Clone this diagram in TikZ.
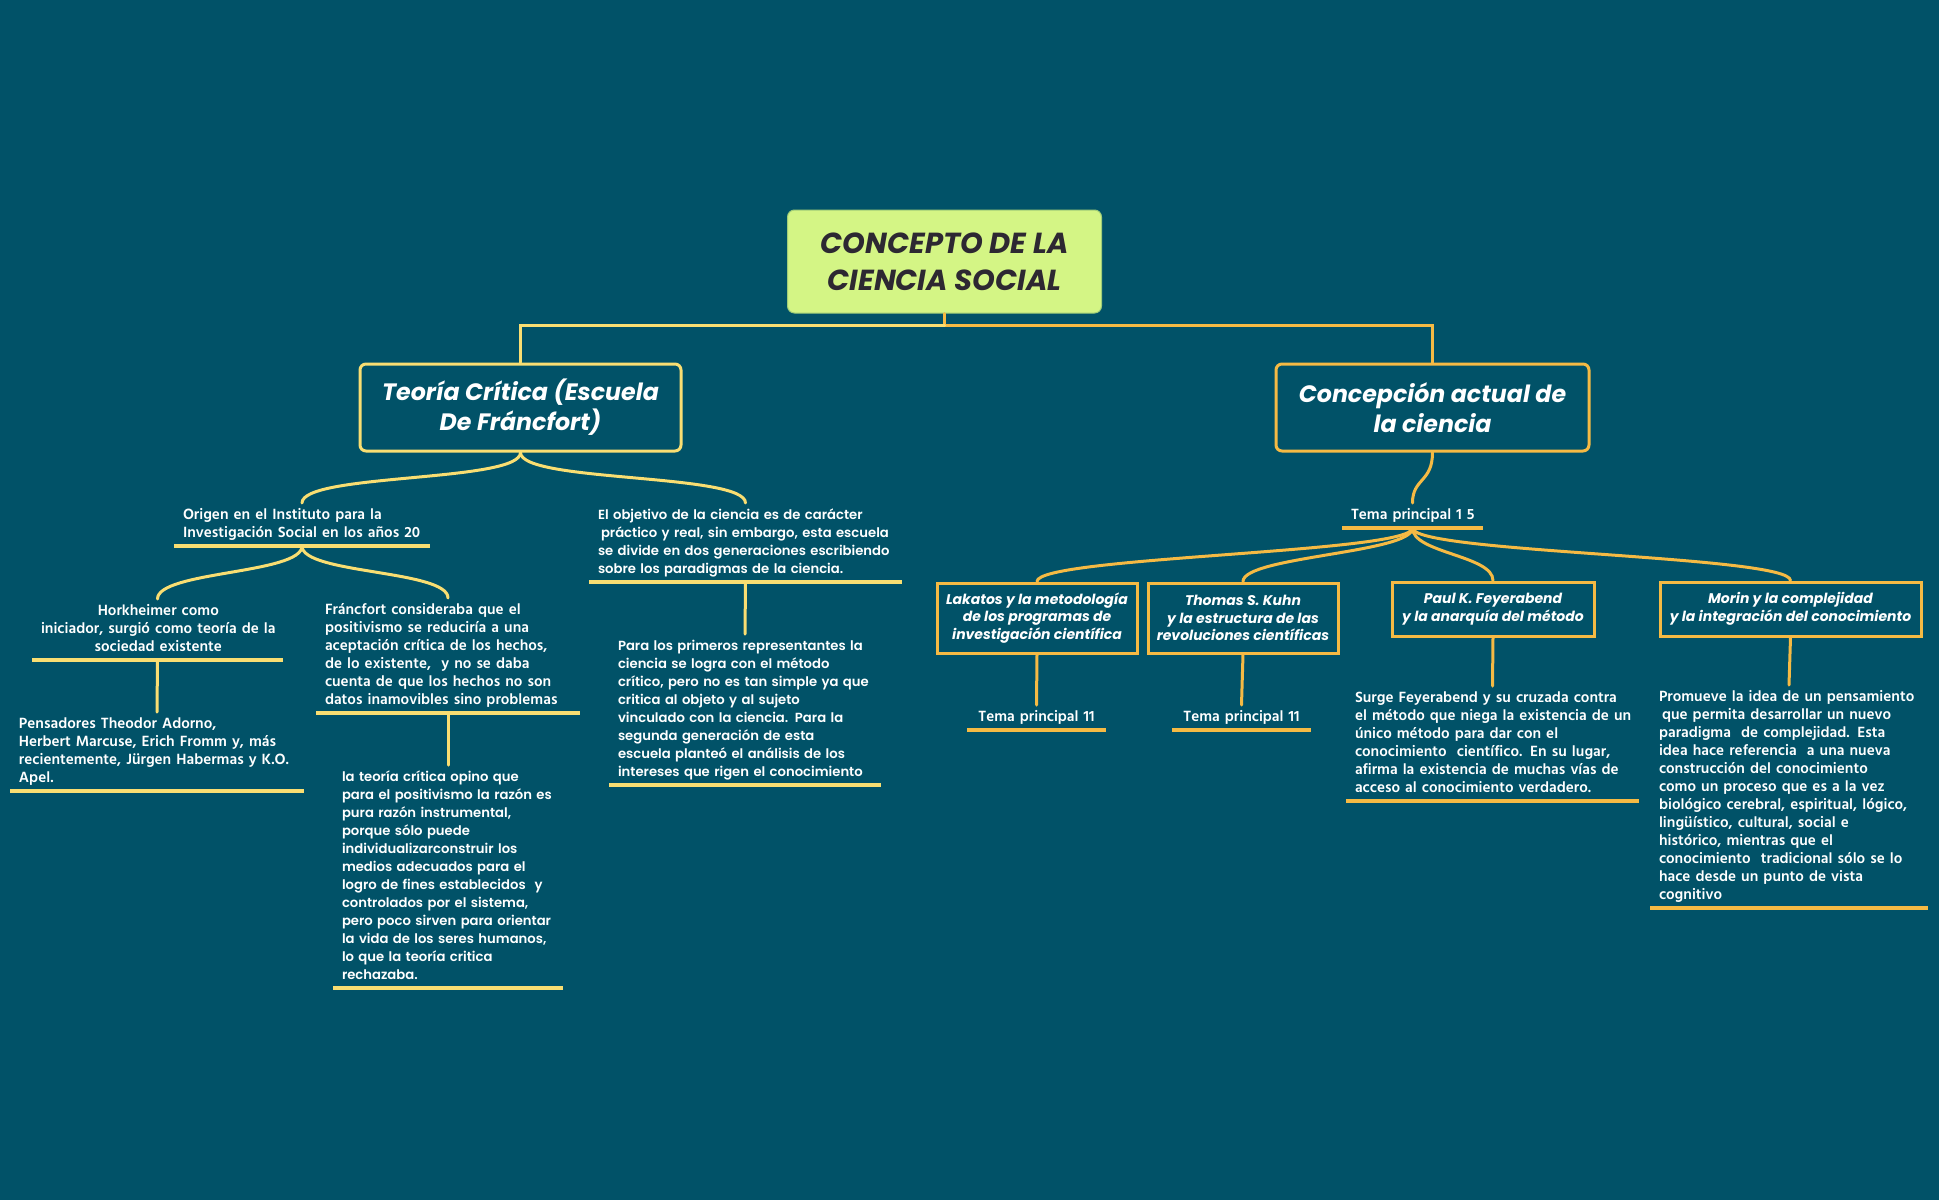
\documentclass[tikz,border=0pt]{standalone}
\usepackage{fontspec}
\setmainfont{Poppins}
\newfontfamily\popf{Poppins}
\newfontfamily\popsb{Poppins}[UprightFont=* SemiBold]
\newfontfamily\hindf{Hind Madurai}
\definecolor{bg}{RGB}{1,82,104}
\definecolor{rootfill}{RGB}{212,245,133}
\definecolor{rootedge}{RGB}{160,205,120}
\definecolor{roottext}{RGB}{45,40,50}
\definecolor{ylw}{RGB}{249,222,114}
\definecolor{org}{RGB}{245,186,68}
\newcommand\TL[1]{\begin{tabular}{@{}l@{}}#1\end{tabular}}
\newcommand\TC[1]{\begin{tabular}{@{}c@{}}#1\end{tabular}}
\begin{document}
\begin{tikzpicture}[x=1pt,y=-1pt,
  conn/.style={line width=3pt, line cap=round},
  yl/.style={conn, draw=ylw},
  og/.style={conn, draw=org},
  ulY/.style={draw=ylw, line width=3.5pt},
  ulO/.style={draw=org, line width=3.5pt},
  rootbox/.style={fill=rootfill, draw=rootedge, line width=1pt, rounded corners=7pt,
    minimum width=314pt, minimum height=103pt, align=center, text=roottext,
    font=\popf\bfseries\itshape\fontsize{29}{37}\selectfont},
  mainbox/.style={line width=3pt, rounded corners=6pt, minimum height=87pt,
    align=center, text=white, font=\popf\bfseries\itshape\fontsize{23.7}{30}\selectfont},
  subbox/.style={draw=org, line width=3pt, align=center, text=white, inner sep=0pt,
    font=\popf\bfseries\itshape\fontsize{14}{17.5}\selectfont},
  leaf/.style={inner xsep=9pt, inner ysep=3.5pt, outer sep=0pt, anchor=south, text=white,
    align=left},
  hindt/.style={font=\hindf\bfseries\fontsize{15.2}{18}\selectfont},
  popt/.style={font=\popsb\fontsize{13.2}{18}\selectfont},
]
\fill[bg] (0,0) rectangle (1939,1200);
\useasboundingbox (0,0) rectangle (1939,1200);

% main nodes
\node[rootbox] (root) at (944.5,261.5) {CONCEPTO DE LA\\CIENCIA SOCIAL};
\node[mainbox, draw=ylw, minimum width=321pt] (tc) at (520.5,407.5) {Teoría Crítica (Escuela\\De Fráncfort)};
\node[mainbox, draw=org, minimum width=313pt] (ca) at (1432.5,407.5) {Concepción actual de\\la ciencia};
\coordinate (rj) at (944.5,325);

% left tree
\node[leaf, hindt, text width=238pt] (orig) at (302,546) {\TL{Origen en el Instituto para la\\Investigación Social en los años 20}};
\node[leaf, hindt, text width=233pt, align=center] (hork) at (157.5,660) {\TC{Horkheimer como\\iniciador, surgió como teoría de la\\sociedad existente}};
\node[leaf, hindt, text width=246pt] (franc) at (448,713) {\TL{Fráncfort consideraba que el\\positivismo se reduciría a una\\aceptación crítica de los hechos,\\de lo existente,\ \ y no se daba\\cuenta de que los hechos no son\\datos inamovibles sino problemas}};
\node[leaf, hindt, text width=276pt] (pens) at (157,791) {\TL{Pensadores Theodor Adorno,\\Herbert Marcuse, Erich Fromm y, más\\recientemente, Jürgen Habermas y K.O.\\Apel.}};
\node[leaf, popt, text width=295pt] (obj) at (745.5,582) {\TL{El objetivo de la ciencia es de carácter\\\hspace*{3pt}práctico y real, sin embargo, esta escuela\\se divide en dos generaciones escribiendo\\sobre los paradigmas de la ciencia.}};
\node[leaf, popt, text width=254pt] (para) at (745,785) {\TL{Para los primeros representantes la\\ciencia se logra con el método\\crítico, pero no es tan simple ya que\\critica al objeto y al sujeto\\vinculado con la ciencia. Para la\\segunda generación de esta\\escuela planteó el análisis de los\\intereses que rigen el conocimiento}};
\node[leaf, popt, text width=212pt] (teo) at (448,988) {\TL{la teoría crítica opino que\\para el positivismo la razón es\\pura razón instrumental,\\porque sólo puede\\individualizarconstruir los\\medios adecuados para el\\logro de fines establecidos\ \ y\\controlados por el sistema,\\pero poco sirven para orientar\\la vida de los seres humanos,\\lo que la teoría critica\\rechazaba.}};

% right tree
\node[leaf, hindt, text width=123pt, align=center] (t15) at (1412.5,528) {\TC{Tema principal 1 5}};
\node[subbox, minimum width=200pt, minimum height=70pt] (lak) at (1037,618) {Lakatos y la metodología\\de los programas de\\investigación científica};
\node[subbox, minimum width=190pt, minimum height=70pt] (kuhn) at (1243,618) {Thomas S. Kuhn\\y la estructura de las\\revoluciones científicas};
\node[subbox, minimum width=202pt, minimum height=54pt] (fey) at (1493,609) {Paul K. Feyerabend\\y la anarquía del método};
\node[subbox, minimum width=261pt, minimum height=54pt] (mor) at (1790.5,609) {Morin y la complejidad\\y la integración del conocimiento};
\node[leaf, hindt, text width=121pt, align=center] (t11a) at (1036.5,730) {\TC{Tema principal 11}};
\node[leaf, hindt, text width=121pt, align=center] (t11b) at (1241.5,730) {\TC{Tema principal 11}};
\node[leaf, hindt, text width=275pt] (surge) at (1492.5,801) {\TL{Surge Feyerabend y su cruzada contra\\el método que niega la existencia de un\\único método para dar con el\\conocimiento\ \ científico. En su lugar,\\afirma la existencia de muchas vías de\\acceso al conocimiento verdadero.}};
\node[leaf, hindt, text width=260pt] (prom) at (1789,908) {\TL{Promueve la idea de un pensamiento\\\hspace*{3pt}que permita desarrollar un nuevo\\paradigma\ \ de complejidad. Esta\\idea hace referencia\ \ a una nueva\\construcción del conocimiento\\como un proceso que es a la vez\\biológico cerebral, espiritual, lógico,\\lingüístico, cultural, social e\\histórico, mientras que el\\conocimiento\ \ tradicional sólo se lo\\hace desde un punto de vista\\cognitivo}};

% underlines
\foreach \n in {orig,hork,franc,pens,obj,para,teo}
  \draw[ulY] (\n.south west) -- (\n.south east);
\foreach \n in {t15,t11a,t11b,surge,prom}
  \draw[ulO] (\n.south west) -- (\n.south east);

% connectors
\draw[og] (root.south) -- (rj);
\draw[og] (rj) -| (ca.north);
\draw[yl] (rj) -| (tc.north);

\draw[yl] (tc.south) .. controls +(0,30) and +(0,-30) .. (orig.north);
\draw[yl] (tc.south) .. controls +(0,30) and +(0,-30) .. (obj.north);
\draw[yl] (orig.south) .. controls +(0,28) and +(0,-28) .. (hork.north);
\draw[yl] (orig.south) .. controls +(0,28) and +(0,-28) .. (franc.north);
\draw[yl] (hork.south) -- (pens.north);
\draw[yl] (franc.south) -- (teo.north);
\draw[yl] (obj.south) -- (para.north);

\draw[og] (ca.south) .. controls +(0,30) and +(0,-25) .. (t15.north);
\draw[og] (t15.south) .. controls +(0,25) and +(0,-25) .. (lak.north);
\draw[og] (t15.south) .. controls +(0,25) and +(0,-25) .. (kuhn.north);
\draw[og] (t15.south) .. controls +(0,25) and +(0,-25) .. (fey.north);
\draw[og] (t15.south) .. controls +(0,25) and +(0,-25) .. (mor.north);
\draw[og] (lak.south) -- (t11a.north);
\draw[og] (kuhn.south) -- (t11b.north);
\draw[og] (fey.south) -- (surge.north);
\draw[og] (mor.south) -- (prom.north);
\end{tikzpicture}
\end{document}
